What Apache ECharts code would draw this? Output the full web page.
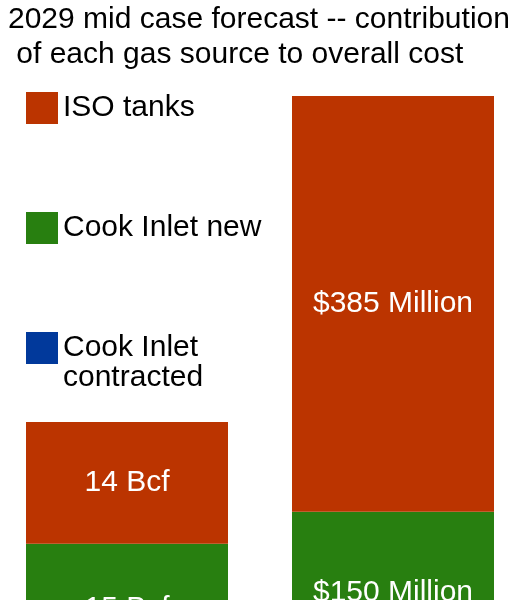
<!DOCTYPE html>
<html>
<head>
<meta charset="utf-8">
<script src="https://cdn.jsdelivr.net/npm/echarts@6/dist/echarts.min.js"></script>
<style>
  html, body { margin: 0; padding: 0; background: #fff; overflow: hidden; }
  #chart { width: 516px; height: 600px; }
</style>
</head>
<body>
<div id="chart"></div>
<script>
// two bars: gas volume (Bcf) and cost ($ Million), each stacked by source
var categories = ['Volume', 'Cost'];
var sources = ['Cook Inlet contracted', 'Cook Inlet new', 'ISO tanks']; // bottom -> top
var volumeBcf = [30, 15, 14];      // contracted is below the picture edge, estimated
var costMillion = [242, 150, 385]; // contracted is below the picture edge, estimated
var colors = ['#01399b', '#287f10', '#bb3400'];

var fontFamily = "'Liberation Sans', Arial, Helvetica, sans-serif";

var series = [];
for (var i = 0; i < sources.length; i++) {
    series.push({
        name: sources[i],
        type: 'bar',
        stack: 'bcf',
        yAxisIndex: 0,
        barWidth: 202,
        barGap: '-100%',
        itemStyle: { color: colors[i] },
        label: {
            show: true,
            position: 'inside',
            color: '#fff',
            fontSize: 30,
            fontFamily: fontFamily,
            formatter: '{c} Bcf'
        },
        data: [volumeBcf[i], '-']
    });
    series.push({
        name: sources[i],
        type: 'bar',
        stack: 'usd',
        yAxisIndex: 1,
        barWidth: 202,
        barGap: '-100%',
        itemStyle: { color: colors[i] },
        label: {
            show: true,
            position: 'inside',
            color: '#fff',
            fontSize: 30,
            fontFamily: fontFamily,
            formatter: '${c} Million'
        },
        data: ['-', costMillion[i]]
    });
}

var legendBase = {
    orient: 'vertical',
    left: 26,
    padding: 0,
    itemWidth: 32,
    itemHeight: 32,
    itemGap: 88,
    icon: 'rect',
    selectedMode: false,
    textStyle: { fontSize: 30, color: '#000', lineHeight: 30, fontFamily: fontFamily }
};

var myChart = echarts.init(document.getElementById('chart'), null, { renderer: 'canvas' });
myChart.setOption({
    animation: false,
    backgroundColor: '#fff',
    title: {
        text: '2029 mid case forecast -- contribution\n of each gas source to overall cost',
        left: 8,
        top: 2,
        padding: 0,
        textStyle: {
            fontSize: 30,
            fontWeight: 'normal',
            color: '#000',
            lineHeight: 35,
            fontFamily: fontFamily
        }
    },
    legend: [
        echarts.util.extend({ top: 92, data: ['ISO tanks', 'Cook Inlet new'] }, legendBase),
        // empty first line keeps "Cook Inlet" level with the swatch, "contracted" hangs below
        echarts.util.extend({
            top: 303,
            data: ['Cook Inlet contracted'],
            formatter: function () { return '\nCook Inlet\ncontracted'; }
        }, legendBase)
    ],
    // the picture is cropped: the bars run on below the bottom edge
    grid: { left: -6, width: 532, top: 96, height: 839, containLabel: false, outerBoundsMode: 'none' },
    xAxis: {
        type: 'category',
        data: categories,
        axisLine: { show: false },
        axisTick: { show: false },
        axisLabel: { show: false }
    },
    yAxis: [
        { type: 'value', min: 0, max: 96.5, show: false, splitLine: { show: false } },
        { type: 'value', min: 0, max: 777, show: false, splitLine: { show: false } }
    ],
    series: series
});
</script>
</body>
</html>
